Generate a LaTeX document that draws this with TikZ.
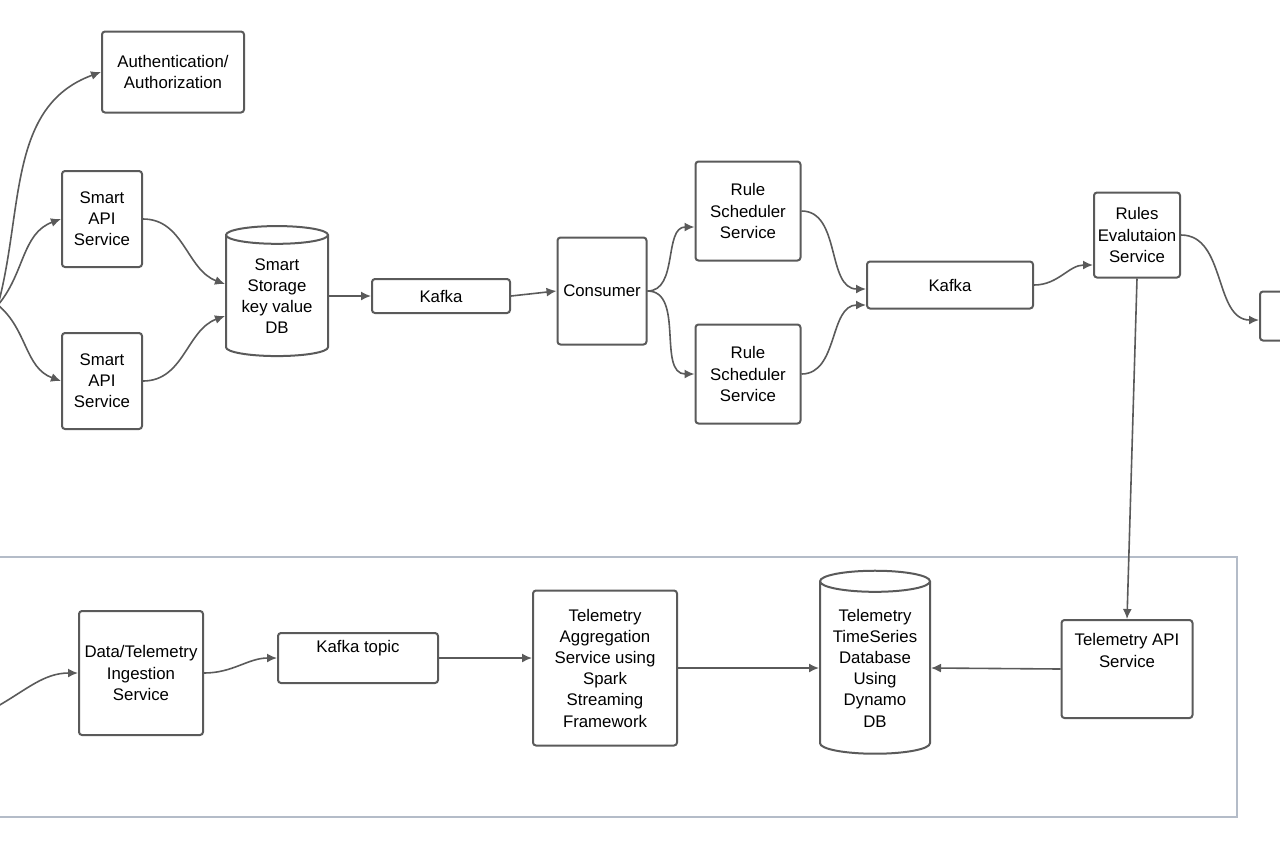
\documentclass[tikz,border=0pt]{standalone}
\usepackage{fontspec}
\setmainfont{Liberation Sans}
\usetikzlibrary{shapes.geometric,arrows.meta}
\definecolor{ln}{HTML}{5A5A5A}
\definecolor{frame}{HTML}{B4BCC8}
\begin{document}
\begin{tikzpicture}[x=0.5pt,y=-0.5pt,
  box/.style={draw=ln,line width=1pt,rounded corners=1.5pt,fill=white,align=center,
    inner sep=0pt,font=\fontsize{8.4}{10.6}\selectfont},
  db/.style={cylinder,shape border rotate=90,aspect=0.25,draw=ln,line width=1pt,fill=white,
    align=center,inner sep=0pt,font=\fontsize{8.4}{10.6}\selectfont},
  link/.style={draw=ln,line width=0.8pt,-{Latex[length=5pt,width=4.5pt]}}]
\useasboundingbox (0,0) rectangle (1280,853);
\clip (0,0) rectangle (1280,853);
\draw[frame,line width=0.7pt] (-5,557) rectangle (1237,817);

\node[box,minimum width=71pt,minimum height=40.5pt] (auth) at (173,72) {Authentication/\\Authorization};
\node[box,minimum width=40pt,minimum height=48pt] (sa1) at (102,219) {Smart\\API\\Service};
\node[box,minimum width=40pt,minimum height=48pt] (sa2) at (102,381) {Smart\\API\\Service};
\node[db,minimum width=51pt,minimum height=65pt] (store) at (277,296) {Smart\\Storage\\key value\\DB};
\node[box,minimum width=69pt,minimum height=17pt] (k1) at (441,296) {Kafka};
\node[box,minimum width=44.5pt,minimum height=53.5pt] (cons) at (602,291) {Consumer};
\node[box,minimum width=52.5pt,minimum height=49.5pt] (rs1) at (748,211) {Rule\\Scheduler\\Service};
\node[box,minimum width=52.5pt,minimum height=49.5pt] (rs2) at (748,374) {Rule\\Scheduler\\Service};
\node[box,minimum width=83pt,minimum height=23.5pt] (k2) at (950,285) {Kafka};
\node[box,minimum width=43pt,minimum height=42.5pt] (re) at (1137,235) {Rules\\Evalutaion\\Service};
\node[box,minimum width=25pt,minimum height=24.5pt,anchor=west] (nx) at (1259,316) {};

\node[box,minimum width=62pt,minimum height=62pt] (ing) at (141,673) {Data/Telemetry\\Ingestion\\Service};
\node[box,minimum width=80pt,minimum height=25pt] (kt) at (358,658) {Kafka topic\\[-2pt]\strut};
\node[box,minimum width=72pt,minimum height=77.5pt] (agg) at (605,668) {Telemetry\\Aggregation\\Service using\\Spark\\Streaming\\Framework};
\node[db,minimum width=55pt,minimum height=91.5pt] (tdb) at (875,668) {Telemetry\\TimeSeries\\Database\\Using\\Dynamo\\DB};
\node[box,minimum width=65.5pt,minimum height=49pt] (api) at (1127,669) {Telemetry API\\Service\\[8pt]};

\coordinate (src) at (-2,305);
\coordinate (src2) at (-2,706);
\draw[link] (src) to[out=75,in=200] (auth.west);
\draw[link] (src) to[out=50,in=200] (sa1.west);
\draw[link] (src) to[out=-40,in=160] (sa2.west);
\draw[link] (src2) to[out=30,in=180] (ing.west);
\draw[link] (sa1.east) to[out=0,in=160] ([yshift=6]store.west);
\draw[link] (sa2.east) to[out=0,in=200] ([yshift=-10]store.west);
\draw[link] ([yshift=0]store.east) -- (k1.west);
\draw[link] (k1.east) -- (cons.west);
\draw[link] (cons.east) to[out=0,in=180] ([yshift=-8]rs1.west);
\draw[link] (cons.east) to[out=0,in=180] (rs2.west);
\draw[link] (rs1.east) to[out=0,in=180] ([yshift=-2]k2.west);
\draw[link] (rs2.east) to[out=0,in=180] ([yshift=-10]k2.west);
\draw[link] (k2.east) to[out=0,in=180] ([yshift=-15]re.west);
\draw[link] (re.east) to[out=0,in=180] ([yshift=-2]nx.west);
\draw[link] (re.south) -- (api.north);
\draw[link] (ing.east) to[out=0,in=180] ([yshift=0]kt.west);
\draw[link] (kt.east) -- (kt.east -| agg.west);
\draw[link] (agg.east) -- (tdb.west);
\draw[link] (api.west) -- (tdb.east);
\end{tikzpicture}
\end{document}
